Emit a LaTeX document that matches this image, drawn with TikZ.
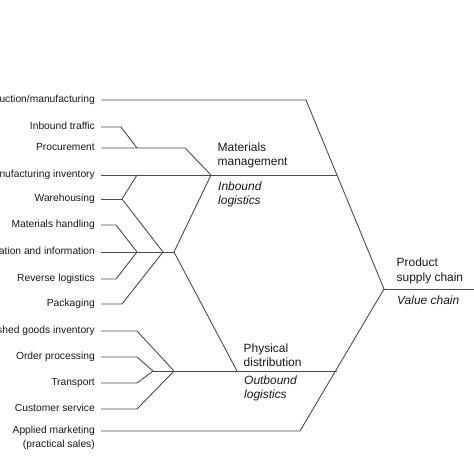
\documentclass[tikz,border=0pt]{standalone}
\usepackage{fontspec}
\setmainfont{Liberation Sans}
\begin{document}
\begin{tikzpicture}[x=1bp,y=-1bp,
  lab/.style={anchor=mid east, inner xsep=6bp, inner ysep=0pt, text=black!90, font=\fontsize{10.3}{12}\selectfont},
  mid/.style={anchor=north west, inner sep=0pt, align=left, text=black!90, font=\fontsize{12}{14}\selectfont},
  conn/.style={draw=black!70, line width=.9bp, line join=round}]
			    \useasboundingbox (0,0) rectangle (474,474);
			    % left labels
			    \node[lab] (PM) at (101,100) {Production/manufacturing};
		    	\node[lab] (IT) at (101,127) {Inbound traffic};
		    	\node[lab] (PR) at (101,148) {Procurement};
		    	\node[lab] (MI) at (101,175) {Manufacturing inventory};
		    	\node[lab] (WH) at (101,199) {Warehousing};
		    	\node[lab] (MH) at (101,225) {Materials handling};
		    	\node[lab] (CI) at (101,252) {Communication and information};
		    	\node[lab] (RL) at (101,279) {Reverse logistics};
		    	\node[lab] (PK) at (101,304) {Packaging};
		    	\node[lab] (FG) at (101,331) {Finished goods inventory};
		    	\node[lab] (OP) at (101,357) {Order processing};
		    	\node[lab] (TR) at (101,383) {Transport};
		    	\node[lab] (CS) at (101,409) {Customer service};
		    	\node[lab] (AM) at (101,431) {Applied marketing};
		    	\node[lab] (PS) at (101,445) {(practical sales)};
		    	% right labels
		    	\node[mid] (MM) at (217.5,142.3) {Materials\\management};
		    	\node[mid] (IL) at (218,181.3) {\itshape Inbound\\\itshape logistics};
		    	\node[mid] (PD) at (243.5,343.3) {Physical\\distribution};
		    	\node[mid] (OL) at (244,375.3) {\itshape Outbound\\\itshape logistics};
		    	\node[mid, font=\fontsize{12}{15}\selectfont] (PC) at (396.5,257.5) {Product\\supply chain};
		    	\node[mid] (VC) at (397,295.3) {\itshape Value chain};
		    	% junctions
		    	\coordinate (JA) at (137,148);
		    	\coordinate (JB) at (211,175);
		    	\coordinate (JC) at (137,175);
		    	\coordinate (JD) at (137,252);
		    	\coordinate (JE) at (163,252);
		    	\coordinate (JF) at (174,252);
		    	\coordinate (JG) at (153,371);
		    	\coordinate (JH) at (174,371);
		    	\coordinate (JI) at (237,371);
		    	\coordinate (JK) at (336.5,371);
		    	\coordinate (JL) at (337,175);
		    	\coordinate (JM) at (384,289);
		    	\coordinate (JN) at (474,289);
		    	
		    	\draw[conn] (PM.mid east)--(306,100)--(JM);
		    	\draw[conn] (IT.mid east)--(121,127)--(JA);
		    	\draw[conn] (PR.mid east)--(185,148)--(JB);
		    	\draw[conn] (MI.mid east)--(JL);
		    	\draw[conn] (JC)--(122,199)--(JE);
		    	\draw[conn] (WH.mid east)--(122,199);
		    	\draw[conn] (MH.mid east)--(116,225)--(JD);
		    	\draw[conn] (CI.mid east)--(JF);
		    	\draw[conn] (RL.mid east)--(116,279)--(JD);
		    	\draw[conn] (PK.mid east)--(122,304)--(JE);
		    	\draw[conn] (JB)--(JF)--(JI);
		    	\draw[conn] (FG.mid east)--(137,331)--(JH);
		    	\draw[conn] (OP.mid east)--(137,357)--(JG);
		    	\draw[conn] (TR.mid east)--(137,383)--(JG);
		    	\draw[conn] (CS.mid east)--(137,409)--(JH);
		    	\draw[conn] (JG)--(JK);
		    	\draw[conn] (AM.mid east)--(300,431)--(JM);
		    	\draw[conn] (JM)--(JN);
		    \end{tikzpicture}
\end{document}
